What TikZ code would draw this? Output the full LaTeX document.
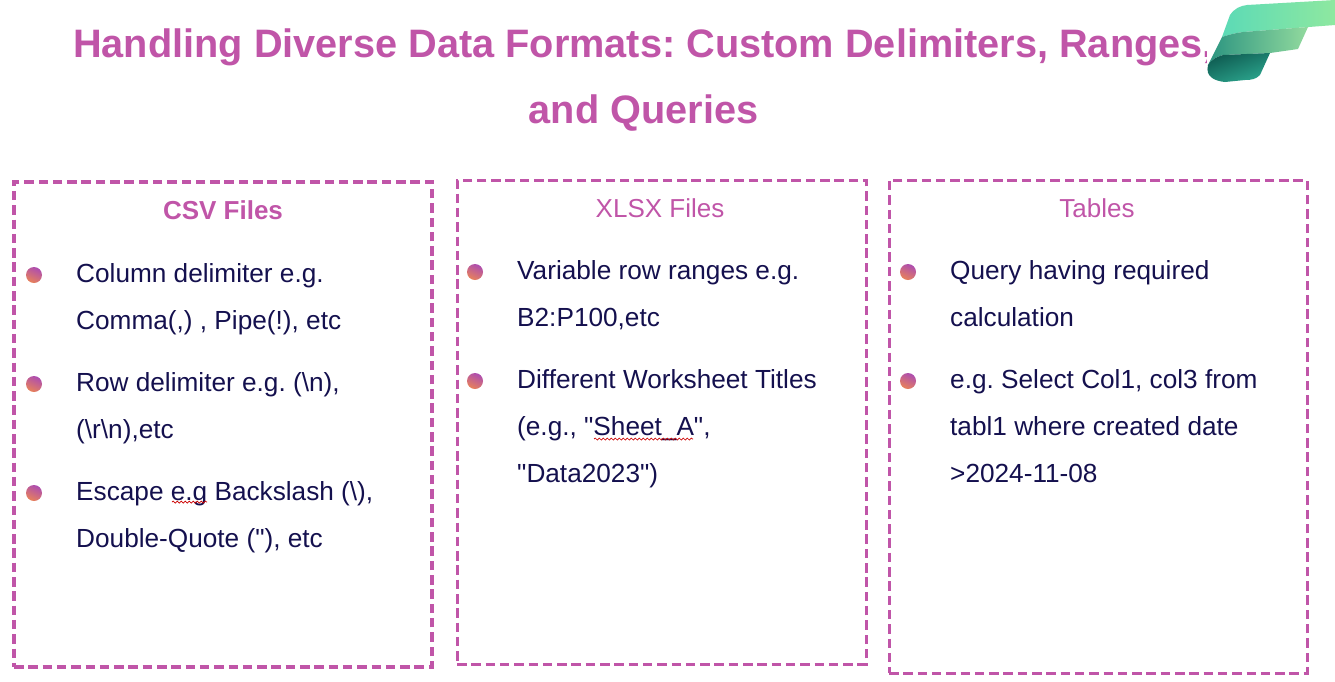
\documentclass[tikz,border=0pt]{standalone}
\usepackage{fontspec}
\usepackage{xcolor}
\usetikzlibrary{positioning, decorations.pathmorphing}
\setmainfont{Liberation Sans}[Ligatures=TeXOff]
\frenchspacing
\definecolor{orchid}{HTML}{C055A8}
\definecolor{navy}{HTML}{14104E}
\definecolor{ember}{HTML}{E8825A}
\definecolor{mintA}{HTML}{5CDAB6}
\definecolor{mintB}{HTML}{96EED2}
\definecolor{mintC}{HTML}{8EE8A0}
\definecolor{tealA}{HTML}{2B9480}
\definecolor{tealB}{HTML}{3FA88A}
\definecolor{tealC}{HTML}{92DA9E}
\definecolor{deepA}{HTML}{0E5A50}
\definecolor{deepB}{HTML}{2CA68E}
\tikzset{%
x=1pt, y=-1pt,
% Specifications for style of nodes:
title/.style = {text=orchid, align=center, font=\fontsize{39.7}{66}\selectfont\bfseries},
panel/.style = {draw=orchid, dashed, line width=3pt, dash pattern=on 9.5pt off 4.8pt, anchor=north west, inner sep=0pt, outer sep=0pt},
heading/.style = {text=orchid, font=\fontsize{26}{30}\selectfont},
bullet/.style = {circle, minimum size=16pt, inner sep=0pt, shading=axis, top color=orchid!90!blue, bottom color=ember, shading angle=-25},
entry/.style = {text=navy, anchor=north west, align=left, inner sep=0pt, font=\fontsize{26.2}{47}\selectfont},
squiggle/.style = {draw=red!80!black, line width=0.7pt, decorate, decoration={snake, amplitude=1pt, segment length=4pt}},
}
\begin{document}
\begin{tikzpicture}
    \useasboundingbox (0,0) rectangle (1335,681);
    % Title
    \node (title) [title] at (643.5,80) {Handling Diverse Data Formats: Custom Delimiters, Ranges,\\and Queries};

    % Logo
    \fill[white] (1207,0) rectangle (1335,85);
    \path[left color=mintA, middle color=mintB, right color=mintC]
        (1230,15) .. controls (1235,8) and (1240,6) .. (1247,5) -- (1335,0) -- (1335,25) -- (1243,32) .. controls (1235,33) and (1228,35) .. (1222,37) -- cycle;
    \path[left color=tealA, middle color=tealB, right color=tealC]
        (1222,37) .. controls (1228,35) and (1235,33) .. (1243,32) -- (1308,27) -- (1298,49) -- (1270,53) -- (1223,55) .. controls (1216,57) and (1211,60) .. (1208,65) -- cycle;
    \path[top color=deepA, bottom color=deepB, shading angle=20]
        (1208,65) .. controls (1211,60) and (1216,57) .. (1223,55) -- (1270,53) -- (1260,75) .. controls (1256,79) and (1252,80) .. (1245,80) -- (1225,82) .. controls (1215,81) and (1205,77) .. (1208,65) -- cycle;

    % Specification of panels
    \node (csvPanel) [panel, line width=4pt, minimum width=418pt, minimum height=485pt] at (14,182) {};
    \node (xlsxPanel) [panel, minimum width=409pt, minimum height=484pt] at (457,180) {};
    \node (tablesPanel) [panel, minimum width=418pt, minimum height=493pt] at (889,180) {};

    % CSV column
    \node (csvHead) [heading, font=\fontsize{26}{30}\selectfont\bfseries] at (223,210) {CSV Files};
    \node (csvDotA) [bullet] at (34,275) {};
    \node (csvTextA) [entry] at (76,263) {Column delimiter e.g.\\Comma(,) , Pipe(!), etc};
    \node (csvDotB) [bullet] at (34,384) {};
    \node (csvTextB) [entry] at (76,372) {Row delimiter e.g. (\textbackslash n),\\(\textbackslash r\textbackslash n),etc};
    \node (csvDotC) [bullet] at (34,493) {};
    \node (csvTextC) [entry] at (76,481) {Escape e.g Backslash (\textbackslash),\\Double-Quote ("), etc};

    % XLSX column
    \node (xlsxHead) [heading] at (660,208) {XLSX Files};
    \node (xlsxDotA) [bullet] at (475,272) {};
    \node (xlsxTextA) [entry] at (517,260) {Variable row ranges e.g.\\B2:P100,etc};
    \node (xlsxDotB) [bullet] at (475,381) {};
    \node (xlsxTextB) [entry] at (517,369) {Different Worksheet Titles\\(e.g., "Sheet\_A",\\"Data2023")};

    % Tables column
    \node (tablesHead) [heading] at (1097,208) {Tables};
    \node (tablesDotA) [bullet] at (908,272) {};
    \node (tablesTextA) [entry] at (950,260) {Query having required\\calculation};
    \node (tablesDotB) [bullet] at (908,381) {};
    \node (tablesTextB) [entry] at (950,369) {e.g. Select Col1, col3 from\\tabl1 where created date\\>2024-11-08};

    % Spell-check marks
    \draw[squiggle] (172,502) -- (207,502);
    \draw[squiggle] (594,439) -- (693,439);
\end{tikzpicture}
\end{document}
